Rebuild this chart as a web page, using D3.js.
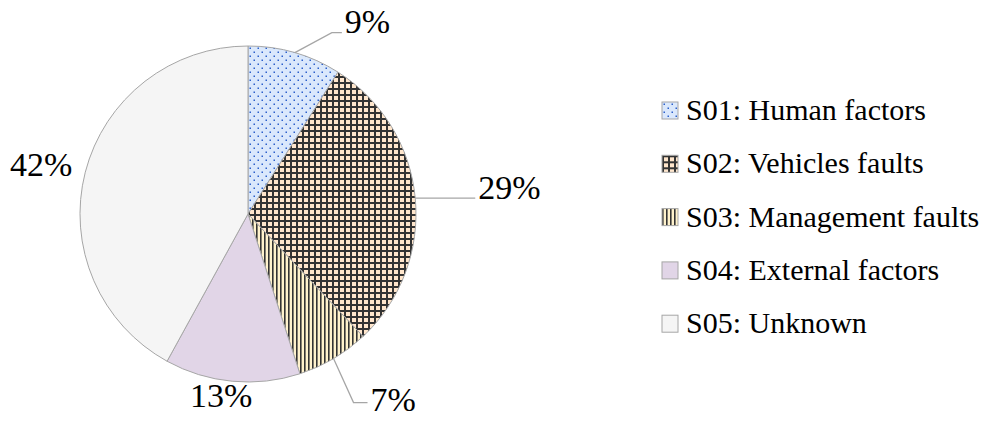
<!DOCTYPE html>
<html>
<head>
<meta charset="utf-8">
<script src="https://cdn.jsdelivr.net/npm/d3@7"></script>
<style>
  body { margin: 0; background: #fff; }
</style>
</head>
<body>
<svg id="chart" width="1000" height="421"></svg>
<script>
// data
const codes = ["S01", "S02", "S03", "S04", "S05"];
const names = ["Human factors", "Vehicles faults", "Management faults", "External factors", "Unknown"];
const shares = [9, 29, 7, 13, 42];
const labels = ["9%", "29%", "7%", "13%", "42%"];

const serif = "Liberation Serif";
const svg = d3.select("#chart");
const cx = 248, cy = 214, r = 168;

// fill patterns
const defs = svg.append("defs");
const dots = defs.append("pattern").attr("id", "p0").attr("patternUnits", "userSpaceOnUse")
    .attr("width", 8).attr("height", 8);
dots.append("rect").attr("width", 8).attr("height", 8).attr("fill", "#dae8fc");
dots.append("rect").attr("x", 1.5).attr("y", 1.5).attr("width", 1.5).attr("height", 1.5).attr("fill", "#2b5fcb");
dots.append("rect").attr("x", 5.5).attr("y", 5.5).attr("width", 1.5).attr("height", 1.5).attr("fill", "#2b5fcb");

const grid = defs.append("pattern").attr("id", "p1").attr("patternUnits", "userSpaceOnUse")
    .attr("width", 6).attr("height", 6);
grid.append("rect").attr("width", 6).attr("height", 6).attr("fill", "#ffe6cc");
grid.append("rect").attr("x", 0).attr("y", 0).attr("width", 6).attr("height", 2).attr("fill", "#333");
grid.append("rect").attr("x", 0).attr("y", 0).attr("width", 2).attr("height", 6).attr("fill", "#333");

const vstripe = defs.append("pattern").attr("id", "p2").attr("patternUnits", "userSpaceOnUse")
    .attr("width", 4).attr("height", 4);
vstripe.append("rect").attr("width", 4).attr("height", 4).attr("fill", "#fff2cc");
vstripe.append("rect").attr("x", 0).attr("y", 0).attr("width", 1.6).attr("height", 4).attr("fill", "#333");

const fills = ["url(#p0)", "url(#p1)", "url(#p2)", "#e1d5e7", "#f5f5f5"];

const pie = d3.pie().sort(null).value(d => d)(shares);
const arc = d3.arc().innerRadius(0).outerRadius(r);

const g = svg.append("g").attr("transform", `translate(${cx},${cy})`);
g.selectAll("path.slice")
  .data(pie)
  .enter()
  .append("path")
  .attr("class", "slice")
  .attr("d", arc)
  .attr("fill", (d, i) => fills[i])
  .attr("stroke", "#a6a6a6")
  .attr("stroke-width", 1);

// label layout: leader elbow/end offsets (from arc point) and text placement
const layout = [
  { elbow: [37, -20], end: [47, -20], text: [50, -20], anchor: "start" },
  { elbow: [30, 0], end: [60, 0], text: [63, 1], anchor: "start" },
  { elbow: [20, 44], end: [34, 44], text: [37, 52], anchor: "start" },
  { text: [-11, 26], anchor: "middle" },
  { text: [-13, 4], anchor: "end" }
];

const labelG = svg.append("g").attr("transform", `translate(${cx},${cy})`);
pie.forEach((d, i) => {
  const a = (d.startAngle + d.endAngle) / 2;
  const px = r * Math.sin(a), py = -r * Math.cos(a);
  const L = layout[i];
  if (L.elbow) {
    labelG.append("polyline")
      .attr("points", [[px, py], [px + L.elbow[0], py + L.elbow[1]], [px + L.end[0], py + L.end[1]]].map(p => p.join(",")).join(" "))
      .attr("fill", "none")
      .attr("stroke", "#a6a6a6")
      .attr("stroke-width", 1.3);
  }
  labelG.append("text")
    .attr("x", px + L.text[0])
    .attr("y", py + L.text[1])
    .attr("text-anchor", L.anchor)
    .attr("font-family", serif)
    .attr("font-size", 34)
    .attr("fill", "#000")
    .text(labels[i]);
});

// legend
const legend = svg.append("g").attr("transform", "translate(662,102)");
const rowH = 53.3;
const rows = legend.selectAll("g.row")
  .data(codes)
  .enter()
  .append("g")
  .attr("class", "row")
  .attr("transform", (d, i) => `translate(0,${i * rowH})`);
rows.append("rect")
  .attr("width", 16).attr("height", 17)
  .attr("fill", (d, i) => fills[i])
  .attr("stroke", "#a6a6a6")
  .attr("stroke-width", 1);
rows.append("text")
  .attr("x", 24)
  .attr("y", 18)
  .attr("font-family", serif)
  .attr("font-size", 30)
  .attr("fill", "#000")
  .text((d, i) => `${d}: ${names[i]}`);
</script>
</body>
</html>
